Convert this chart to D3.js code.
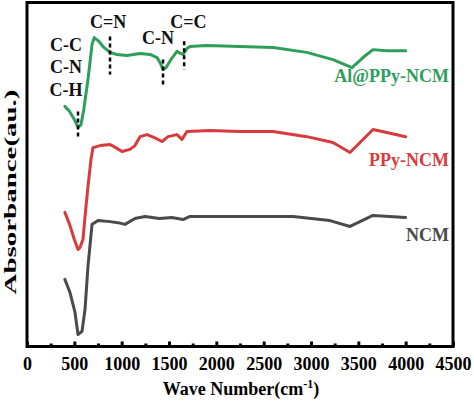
<!DOCTYPE html>
<html>
<head>
<meta charset="utf-8">
<script src="https://cdn.jsdelivr.net/npm/d3@7"></script>
<style>
  html, body { margin: 0; padding: 0; background: #fff; }
  svg { display: block; }
  text { font-family: "Liberation Serif", "Times New Roman", serif; font-weight: bold; }
</style>
</head>
<body>
<svg id="chart" width="474" height="402"></svg>
<script>
// ---- data (wavenumber cm^-1, absorbance a.u.) ----
const ncm = [
  [400,19.5],[454,15.7],[507,9.9],[539,3.5],[581,4.4],[613,10.8],[644,23.3],[687,35.5],
  [750,36.6],[877,36.3],[960,36.0],[1035,35.5],[1140,37.2],[1246,37.8],[1400,37.2],
  [1530,37.5],[1648,36.9],[1722,37.8],[1933,37.8],[2250,37.8],[2810,37.8],[3200,36.6],
  [3412,34.9],[3655,38.1],[4000,37.5]
];
const ppyNcm = [
  [400,39.0],[450,35.5],[500,31.1],[539,28.2],[560,28.8],[591,31.1],[615,38.4],[644,46.5],
  [676,54.4],[697,57.8],[771,58.4],[877,58.7],[920,58.1],[1003,56.7],[1088,57.3],[1140,58.4],
  [1194,61.0],[1268,61.6],[1340,60.8],[1426,59.6],[1490,61.0],[1584,61.6],[1637,60.2],
  [1690,62.5],[1933,62.8],[2250,62.5],[2600,62.5],[2955,61.0],[3232,59.3],[3412,56.4],
  [3655,63.1],[3800,62.2],[4000,61.0]
];
const alPpyNcm = [
  [400,69.8],[450,68.3],[500,66.0],[539,63.7],[570,64.5],[600,68.9],[644,77.6],[687,87.8],
  [710,89.8],[760,88.7],[803,87.2],[877,85.5],[950,84.9],[1056,84.6],[1194,85.2],[1300,84.9],
  [1373,84.0],[1410,82.3],[1437,80.5],[1470,81.1],[1520,83.4],[1584,85.8],[1620,85.2],
  [1648,84.9],[1690,86.6],[1722,87.2],[1900,87.5],[2250,87.2],[2600,86.9],[2955,85.5],
  [3232,83.4],[3433,81.1],[3550,84.0],[3655,86.3],[3800,86.0],[4000,86.0]
];
const seriesNames = ["NCM", "PPy-NCM", "Al@PPy-NCM"];
const seriesLabelY = [30.8, 52.6, 77.0];
const majorTicks = [0,500,1000,1500,2000,2500,3000,3500,4000,4500];
const minorTicks = [250,750,1250,1750,2250,2750,3250,3750,4250];
// annotation markers: wavenumber, absorbance from/to
const markers = [[539,68.3,60.8],[877,90.1,79.1],[1437,83.4,75.3],[1660,88.7,80.5]];
// annotation labels: text, wavenumber (center), absorbance (baseline)
const annotations = [
  ["C-C",412,85.8],["C-N",412,79.4],["C-H",412,72.7],
  ["C=N",856,92.7],["C-N",1384,87.8],["C=C",1706,92.7]
];

// ---- layout ----
const colors = ["#4a4a4a", "#d93a3c", "#2f9e5a"];
const L = 27, R = 453, T = 2.5, B = 346.5;
const svg = d3.select("#chart");
const x = d3.scaleLinear().domain([0, 4500]).range([L, R]);
const y = d3.scaleLinear().domain([0, 100]).range([B, T]);

const line = d3.line().x(d => x(d[0])).y(d => y(d[1])).curve(d3.curveLinear);

[ncm, ppyNcm, alPpyNcm].forEach((s, i) => {
  svg.append("path").datum(s)
    .attr("d", line)
    .attr("fill", "none")
    .attr("stroke", colors[i])
    .attr("stroke-width", 3)
    .attr("stroke-linejoin", "round")
    .attr("stroke-linecap", "round");
});

// series labels
seriesNames.forEach((n, i) => {
  svg.append("text")
    .attr("x", x(4458)).attr("y", y(seriesLabelY[i]))
    .attr("text-anchor", "end")
    .attr("font-size", 18)
    .attr("fill", colors[i])
    .text(n);
});

// dashed markers
svg.selectAll(".marker").data(markers).join("line")
  .attr("class", "marker")
  .attr("x1", d => x(d[0])).attr("x2", d => x(d[0]))
  .attr("y1", d => y(d[1])).attr("y2", d => y(d[2]))
  .attr("stroke", "#000").attr("stroke-width", 2.5)
  .attr("stroke-dasharray", "4,3");

svg.selectAll(".ann").data(annotations).join("text")
  .attr("class", "ann")
  .attr("x", d => x(d[1])).attr("y", d => y(d[2]))
  .attr("text-anchor", "middle")
  .attr("font-size", 18)
  .attr("fill", "#111")
  .text(d => d[0]);

// axes
const gx = svg.append("g").attr("transform", `translate(0,${B})`)
  .call(d3.axisBottom(x).tickValues(majorTicks).tickSize(-5).tickPadding(11).tickFormat(d3.format("d")));
gx.select(".domain").remove();
gx.selectAll(".tick line").attr("stroke", "#000").attr("stroke-width", 3);
gx.selectAll(".tick text").attr("font-size", 18).attr("fill", "#000")
  .attr("font-family", "Liberation Serif, serif").attr("font-weight", "bold");

const gm = svg.append("g").attr("transform", `translate(0,${B})`)
  .call(d3.axisBottom(x).tickValues(minorTicks).tickSize(-3).tickFormat(""));
gm.select(".domain").remove();
gm.selectAll(".tick line").attr("stroke", "#000").attr("stroke-width", 3);

// frame
svg.append("rect")
  .attr("x", L).attr("y", T).attr("width", R - L).attr("height", B - T)
  .attr("fill", "none").attr("stroke", "#000").attr("stroke-width", 3);

// axis titles
const xt = svg.append("text")
  .attr("x", 241).attr("y", 395)
  .attr("text-anchor", "middle")
  .attr("font-size", 18).attr("fill", "#000");
xt.append("tspan").text("Wave Number(cm");
xt.append("tspan").attr("dy", -7).attr("font-size", 12).text("-1");
xt.append("tspan").attr("dy", 7).text(")");

svg.append("text")
  .attr("transform", "translate(16,192) rotate(-90)")
  .attr("text-anchor", "middle")
  .attr("font-size", 17).attr("fill", "#000")
  .attr("textLength", 205).attr("lengthAdjust", "spacingAndGlyphs")
  .text("Absorbance(au.)");
</script>
</body>
</html>
